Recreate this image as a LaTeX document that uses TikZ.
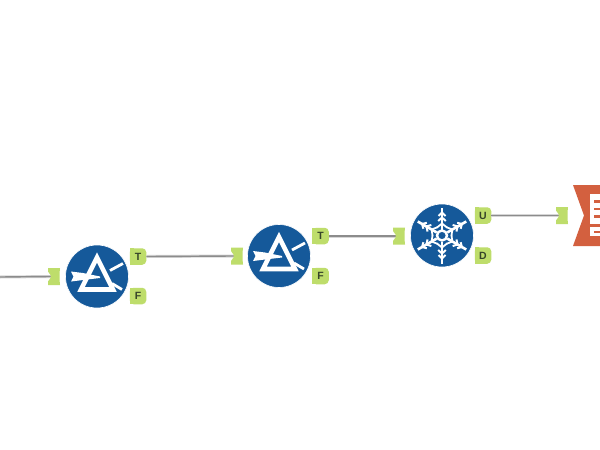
\documentclass[tikz,border=0pt]{standalone}
\usepackage{fontspec}
\setsansfont{Liberation Sans}
\definecolor{toolblue}{HTML}{15599A}
\definecolor{taggreen}{HTML}{BEDD6B}
\definecolor{wire}{HTML}{8C8C8C}
\definecolor{wirehalo}{HTML}{D6D6D6}
\definecolor{brick}{HTML}{D3603F}
\definecolor{tagtext}{HTML}{37452A}
\tikzset{
  tool/.style={circle,fill=toolblue,draw=white,line width=0.6pt,minimum size=63pt,inner sep=0pt},
  outtag/.style={rectangle,rounded corners=4pt,fill=taggreen,
    minimum width=16.5pt,minimum height=16.5pt,inner sep=0pt,
    font=\sffamily\bfseries\fontsize{10.5}{10.5}\selectfont,text=tagtext},
  intag/.style={minimum width=12pt,minimum height=17pt,inner sep=0pt},
  halo/.style={wirehalo,line width=3pt},
  wireline/.style={wire,line width=1.4pt},
  iconline/.style={white,line width=4.6pt,line join=miter,miter limit=10},
  flake/.style={white,line width=2.6pt},
  pics/inflag/.style={code={
    \fill[taggreen] (-6,-8.5) -- (6,-8.5) -- (5.5,-3) -- (5.5,3) -- (6,8.5) -- (-6,8.5) -- (-6,5) -- (-3.5,1.5) -- (-3.5,-1.5) -- (-6,-5) -- cycle;}},
  pics/prism/.style={code={
    \draw[iconline] (0,-19) -- (16,13) -- (-16,13) -- cycle;
    \fill[white] (-26,-5) -- (-14,-3.5) -- (3,0) -- (3,1.5) -- (-14,3.5) -- (-26,5) -- (-23.5,0) -- cycle;
    \draw[white,line width=2.8pt] (13,-6) -- (26,-13);
    \draw[white,line width=2.8pt] (15,7) -- (25,13);
  }},
  pics/snowflake/.style={code={
    \foreach \a in {30,90,150,210,270,330}{
      \begin{scope}[rotate=\a]
        \draw[flake] (6,0) -- (28,0);
        \draw[white,line width=1.8pt] (8,-5) -- (12,0) -- (8,5);
        \draw[white,line width=2pt] (14.5,-3.8) -- (18,0) -- (14.5,3.8);
        \draw[white,line width=2pt] (19.5,-3.5) -- (23,0) -- (19.5,3.5);
      \end{scope}}
    \draw[white,line width=2.4pt] (0,0) circle (5);
  }}
}
\begin{document}
\begin{tikzpicture}[x=1pt,y=-1pt]
\useasboundingbox (0,0) rectangle (600,450);
\fill[white] (0,0) rectangle (600,450);

% output tool
\begin{scope}
\clip (0,0) rectangle (600,450);
\fill[brick] (573,185) -- (610,185) -- (610,246) -- (573,246) -- (584,215.5) -- cycle;
\fill[white] (590,194) rectangle (610,224);
\fill[white] (590,227) rectangle (610,236);
\fill[brick] (594,200) rectangle (610,202.5);
\fill[brick] (594,207.5) rectangle (610,210);
\fill[brick] (594,215) rectangle (610,217.5);
\fill[brick] (594,230.5) rectangle (610,232.5);
\end{scope}

\coordinate (start) at (0,277);

\node[tool] (p1) at (97,276.5) {};
\node[tool] (p2) at (279,256) {};
\node[tool] (s1) at (442,235.5) {};
\pic at (p1) {prism};
\pic at (p2) {prism};
\pic at (s1) {snowflake};

\node[intag] (i1) at (54,276.5) {};
\node[intag] (i2) at (237,256) {};
\node[intag] (i3) at (399,236) {};
\node[intag] (i4) at (562,215.5) {};

\foreach \xx/\yy in {129.75/256.5,129.75/296,312.25/236,312.25/276,474.75/215.5,474.75/255.5}
  \fill[taggreen] (\xx,\yy-8.25) rectangle (\xx+4,\yy+8.25);

\node[outtag] (t1) at (138,256.5) {T};
\node[outtag] (f1) at (138,296) {F};
\node[outtag] (t2) at (320.5,236) {T};
\node[outtag] (f2) at (320.5,276) {F};
\node[outtag] (u1) at (483,215.5) {U};
\node[outtag] (d1) at (483,255.5) {D};

\draw[halo] (start) -- ([xshift=3pt]i1.west);
\draw[halo] (t1.east) -- ([xshift=3pt]i2.west);
\draw[halo] (t2.east) -- ([xshift=3pt]i3.west);
\draw[halo] (u1.east) -- ([xshift=3pt]i4.west);
\draw[wireline] (start) -- ([xshift=3pt]i1.west);
\draw[wireline] (t1.east) -- ([xshift=3pt]i2.west);
\draw[wireline] (t2.east) -- ([xshift=3pt]i3.west);
\draw[wireline] (u1.east) -- ([xshift=3pt]i4.west);
\foreach \n in {i1,i2,i3,i4} \pic at (\n) {inflag};
\end{tikzpicture}
\end{document}
